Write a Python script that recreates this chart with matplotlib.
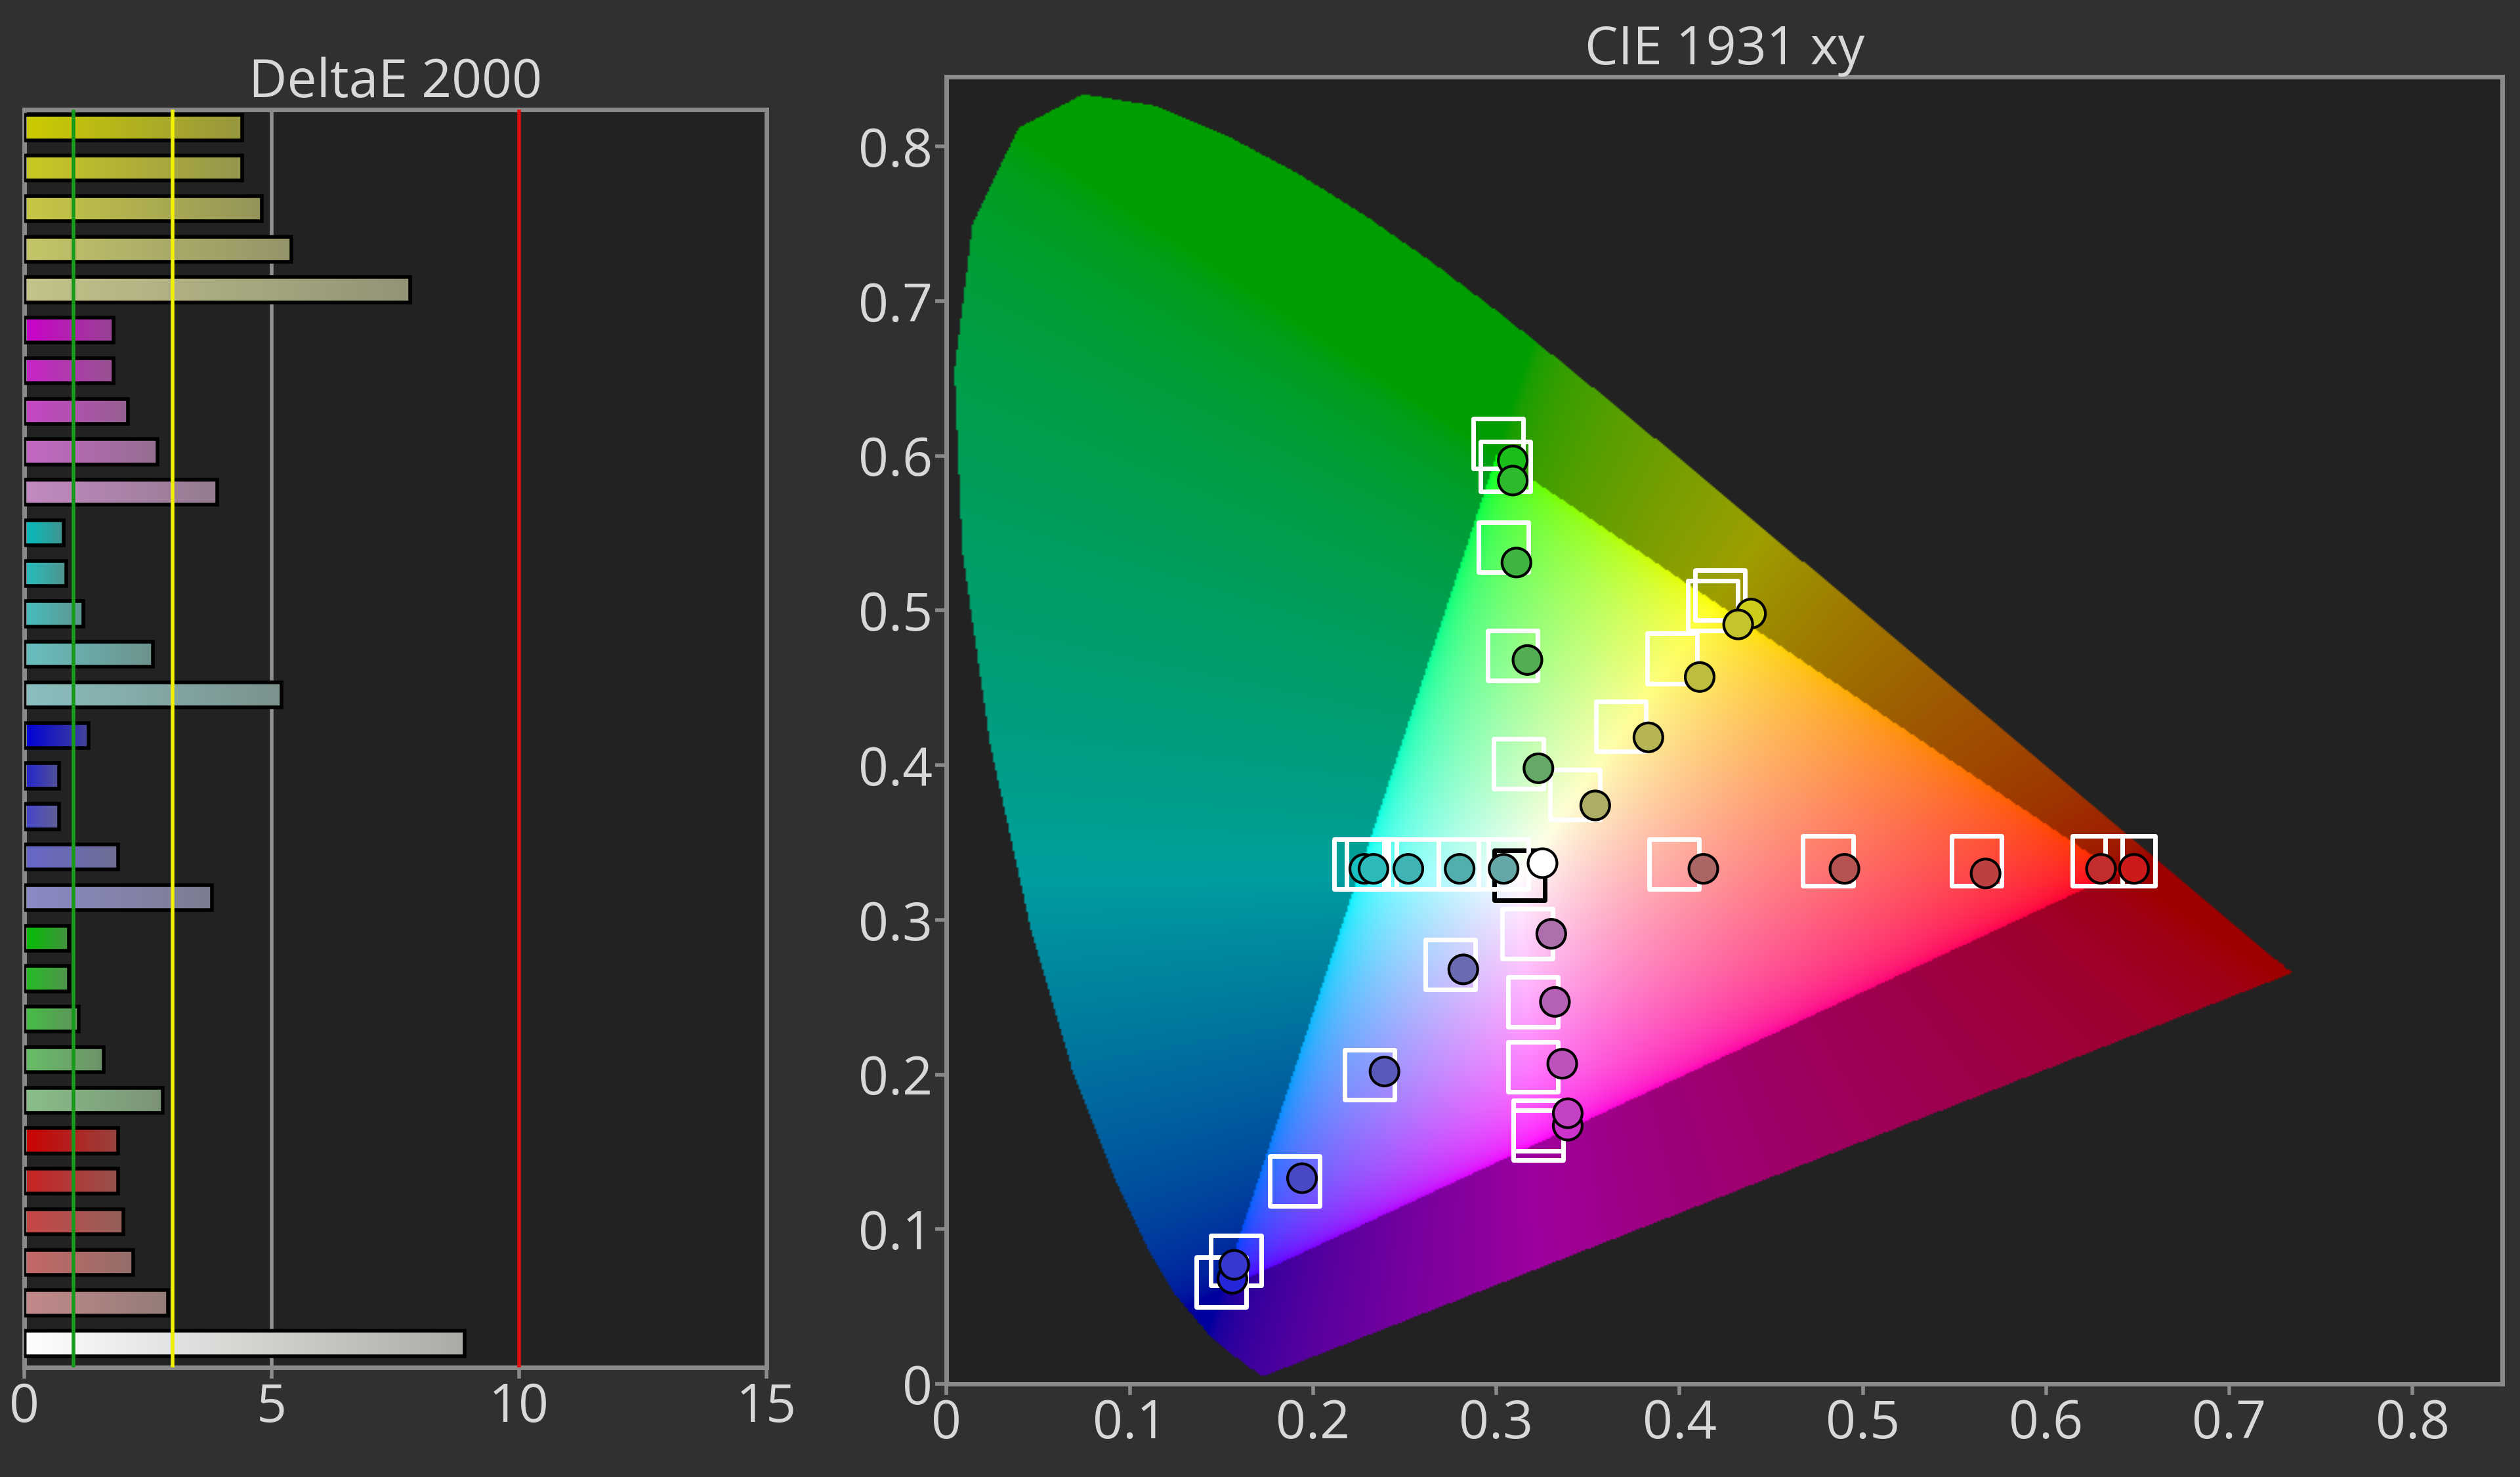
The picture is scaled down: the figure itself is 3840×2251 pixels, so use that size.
import numpy as np
import matplotlib
matplotlib.use("Agg")
import matplotlib.pyplot as plt
from matplotlib.path import Path
from matplotlib.patches import Rectangle

plt.rcParams['font.family'] = ['Open Sans', 'DejaVu Sans']

# ---- DeltaE data (top to bottom) ----
de_groups = ["yellow", "magenta", "cyan", "blue", "green", "red", "white"]
de_yellow = [4.4, 4.4, 4.8, 5.4, 7.8]
de_magenta = [1.8, 1.8, 2.1, 2.7, 3.9]
de_cyan = [0.8, 0.85, 1.2, 2.6, 5.2]
de_blue = [1.3, 0.7, 0.7, 1.9, 3.8]
de_green = [0.9, 0.9, 1.1, 1.6, 2.8]
de_red = [1.9, 1.9, 2.0, 2.2, 2.9]
de_white = [8.9]
base_rgb = {"yellow": (0.80, 0.80, 0.0), "magenta": (0.80, 0.0, 0.80),
            "cyan": (0.0, 0.75, 0.75), "blue": (0.0, 0.0, 0.85),
            "green": (0.0, 0.75, 0.0), "red": (0.80, 0.0, 0.0),
            "white": (1.0, 1.0, 1.0)}

# ---- CIE xy data: targets (squares) and measured (circles) ----
tgt_red_x = [0.397, 0.481, 0.562, 0.628, 0.646]
tgt_red_y = [0.336, 0.338, 0.338, 0.338, 0.338]
mes_red_x = [0.413, 0.490, 0.567, 0.630, 0.648]
mes_red_y = [0.333, 0.333, 0.330, 0.333, 0.333]
tgt_green_x = [0.301, 0.305, 0.304, 0.309, 0.312]
tgt_green_y = [0.608, 0.593, 0.541, 0.471, 0.401]
mes_green_x = [0.309, 0.309, 0.311, 0.317, 0.323]
mes_green_y = [0.597, 0.584, 0.531, 0.468, 0.398]
tgt_yellow_x = [0.422, 0.418, 0.396, 0.368, 0.343]
tgt_yellow_y = [0.510, 0.503, 0.469, 0.425, 0.381]
mes_yellow_x = [0.439, 0.432, 0.411, 0.383, 0.354]
mes_yellow_y = [0.498, 0.491, 0.457, 0.418, 0.374]
tgt_cyan_x = [0.225, 0.232, 0.255, 0.282, 0.304]
tgt_cyan_y = [0.336, 0.336, 0.336, 0.336, 0.336]
mes_cyan_x = [0.228, 0.233, 0.252, 0.280, 0.304]
mes_cyan_y = [0.333, 0.333, 0.333, 0.333, 0.333]
tgt_magenta_x = [0.323, 0.323, 0.320, 0.320, 0.317]
tgt_magenta_y = [0.161, 0.167, 0.205, 0.247, 0.291]
mes_magenta_x = [0.339, 0.339, 0.336, 0.332, 0.330]
mes_magenta_y = [0.167, 0.175, 0.207, 0.247, 0.291]
tgt_blue_x = [0.150, 0.158, 0.190, 0.231, 0.275]
tgt_blue_y = [0.066, 0.080, 0.131, 0.200, 0.271]
mes_blue_x = [0.156, 0.157, 0.194, 0.239, 0.282]
mes_blue_y = [0.068, 0.077, 0.133, 0.202, 0.268]
tgt_white = (0.3127, 0.329)
mes_white = (0.325, 0.337)

# CIE 1931 spectral locus (380-700 nm)
locus_x = [0.1741, 0.1733, 0.1714, 0.1689, 0.1644, 0.1566, 0.1440, 0.1241, 0.1096, 0.0913,
           0.0687, 0.0454, 0.0235, 0.0082, 0.0039, 0.0139, 0.0389, 0.0743, 0.1142, 0.1547,
           0.1929, 0.2296, 0.2658, 0.3016, 0.3373, 0.3731, 0.4087, 0.4441, 0.4788, 0.5125,
           0.5448, 0.5752, 0.6029, 0.6270, 0.6658, 0.6915, 0.7079, 0.7190, 0.7260, 0.7334, 0.7347]
locus_y = [0.0050, 0.0048, 0.0051, 0.0069, 0.0109, 0.0177, 0.0297, 0.0578, 0.0868, 0.1327,
           0.2007, 0.2950, 0.4127, 0.5384, 0.6548, 0.7502, 0.8120, 0.8338, 0.8262, 0.8059,
           0.7816, 0.7543, 0.7243, 0.6923, 0.6589, 0.6245, 0.5896, 0.5547, 0.5202, 0.4866,
           0.4544, 0.4242, 0.3965, 0.3725, 0.3340, 0.3083, 0.2920, 0.2809, 0.2740, 0.2666, 0.2653]
srgb_x = [0.64, 0.30, 0.15]
srgb_y = [0.33, 0.60, 0.06]

BG = "#303030"
AXBG = "#222222"
TXT = "#d8d8d8"
SP = "#8a8a8a"
FS = 58

fig = plt.figure(figsize=(38.4, 22.51), dpi=100, facecolor=BG)

# ---------------- DeltaE panel ----------------
ax1 = fig.add_axes([0.0096, 0.074, 0.2946, 0.852], facecolor=AXBG)
grey = np.array([0.45, 0.45, 0.42])
vals, cols = [], []
for g in de_groups:
    gv = globals()["de_" + g]
    b = np.array(base_rgb[g])
    for i, v in enumerate(gv):
        t = 0.18 * i
        vals.append(v)
        cols.append(b * (1 - t) + np.array([0.75, 0.75, 0.75]) * t)

h = 0.62
for i, (v, c) in enumerate(zip(vals, cols)):
    end = 0.4 * c + 0.6 * grey
    grad = np.linspace(0, 1, 256)[:, None] * (end - c)[None, :] + c[None, :]
    ax1.imshow(grad[None, :, :], extent=[0, v, i + h / 2, i - h / 2],
               aspect="auto", interpolation="bilinear", zorder=2)
    ax1.add_patch(Rectangle((0, i - h / 2), v, h, fill=False, ec="black", lw=4, zorder=3))

ax1.axvline(1, color="#1a9a1a", lw=4, zorder=4)
ax1.axvline(3, color="#f0f000", lw=4, zorder=4)
ax1.axvline(5, color="#909090", lw=4, zorder=1)
ax1.axvline(10, color="#e01010", lw=4, zorder=4)
ax1.set_xlim(0, 15)
ax1.set_ylim(len(vals) - 0.4, -0.45)
ax1.set_yticks([])
ax1.set_xticks([0, 5, 10, 15])
ax1.set_title("DeltaE 2000", color=TXT, fontsize=FS, pad=4)

# ---------------- CIE panel ----------------
ax2 = fig.add_axes([0.3756, 0.063, 0.6174, 0.885], facecolor=AXBG)
N = 800
gx, gy = np.meshgrid(np.linspace(0, 0.85, N), np.linspace(0, 0.85, N))
yy = np.maximum(gy, 1e-4)
X = gx / yy
Z = (1 - gx - gy) / yy
M = np.array([[3.2406, -1.5372, -0.4986], [-0.9689, 1.8758, 0.0415], [0.0557, -0.2040, 1.0570]])
rgb = np.stack([M[k, 0] * X + M[k, 1] * 1.0 + M[k, 2] * Z for k in range(3)], axis=-1)
rgb = np.clip(rgb, 0, None)
rgb = rgb / np.maximum(rgb.max(axis=-1, keepdims=True), 1e-6)
rgb = np.where(rgb <= 0.0031308, 12.92 * rgb, 1.055 * rgb ** (1 / 2.4) - 0.055)
pts = np.column_stack([gx.ravel(), gy.ravel()])
in_loc = Path(np.column_stack([locus_x, locus_y])).contains_points(pts).reshape(N, N)
in_tri = Path(np.column_stack([srgb_x, srgb_y])).contains_points(pts).reshape(N, N)
rgb = rgb * np.where(in_tri, 1.0, 0.62)[..., None]
img = np.zeros((N, N, 4))
img[..., :3] = rgb
img[..., 3] = in_loc
ax2.imshow(img, origin="lower", extent=[0, 0.85, 0, 0.85], interpolation="bilinear",
           aspect="auto", zorder=1)

tsq = dict(marker="s", s=3000, facecolors="none", edgecolors="white", linewidths=5, zorder=3)
ax2.scatter(*tgt_white, marker="s", s=3000, facecolors="none", edgecolors="black", linewidths=5, zorder=3)
groups = [("red", (0.8, 0.1, 0.1)), ("green", (0.1, 0.75, 0.1)), ("yellow", (0.8, 0.8, 0.1)),
          ("cyan", (0.1, 0.75, 0.75)), ("magenta", (0.8, 0.2, 0.8)), ("blue", (0.15, 0.15, 0.85))]
for g, c in groups:
    ax2.scatter(globals()["tgt_%s_x" % g], globals()["tgt_%s_y" % g], **tsq)
for g, c in groups:
    mx = globals()["mes_%s_x" % g]
    my = globals()["mes_%s_y" % g]
    c = np.array(c)
    n = len(mx)
    order = range(n - 1, -1, -1) if g == "red" else range(n)
    cc = []
    for rank, idx in enumerate(order):
        t = 0.15 * rank
        cc.append((idx, c * (1 - t) + np.array([0.6, 0.6, 0.6]) * t))
    cc.sort(key=lambda p: p[0])
    ax2.scatter(mx, my, s=1000, c=[p[1] for p in cc], edgecolors="black", linewidths=3, zorder=4)
ax2.scatter(*mes_white, s=1000, c="white", edgecolors="black", linewidths=3, zorder=4)

ax2.set_xlim(0, 0.849)
ax2.set_ylim(0, 0.845)
ticks = [0, 0.1, 0.2, 0.3, 0.4, 0.5, 0.6, 0.7, 0.8]
labels = ["0"] + ["%.1f" % t for t in ticks[1:]]
ax2.set_xticks(ticks, labels)
ax2.set_yticks(ticks, labels)
ax2.set_title("CIE 1931 xy", color=TXT, fontsize=FS, pad=4)

for ax in (ax1, ax2):
    for s in ax.spines.values():
        s.set_color(SP)
        s.set_linewidth(5)
    ax.tick_params(colors=TXT, labelsize=FS, length=12, width=4, color=SP)

fig.savefig("out.png", dpi=100, facecolor=BG)
